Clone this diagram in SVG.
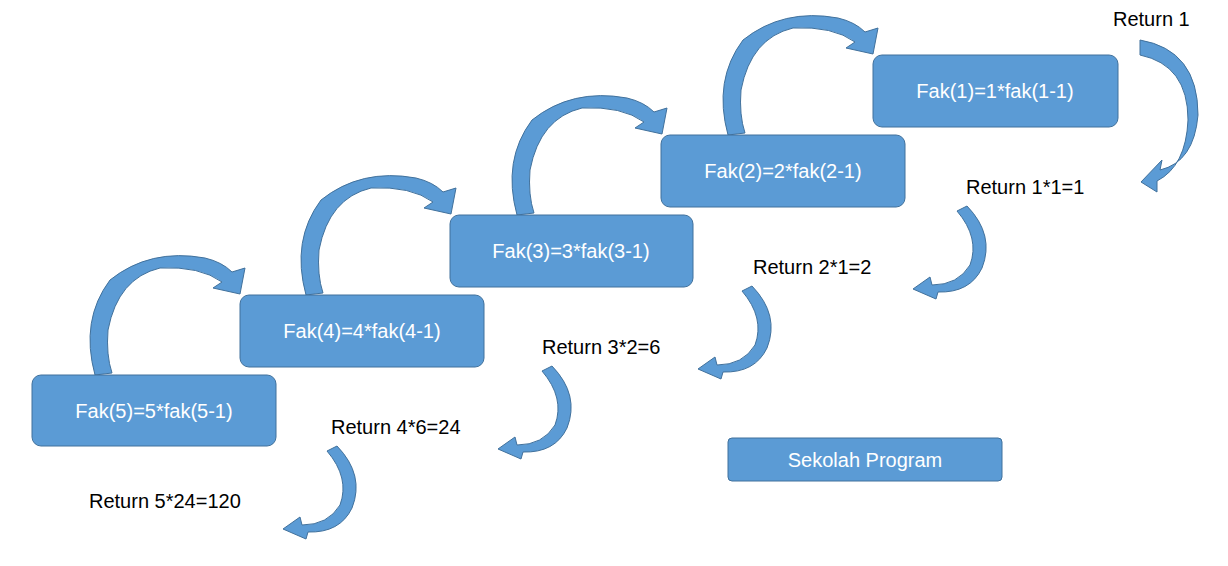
<svg xmlns="http://www.w3.org/2000/svg" width="1228" height="566" viewBox="0 0 1228 566">
<style>
.b{fill:#5b9bd5;stroke:#41719c;stroke-width:1}
.w{fill:#fff;font-family:"Liberation Sans",Arial,sans-serif;font-size:20px;text-anchor:middle}
.k{fill:#000;font-family:"Liberation Sans",Arial,sans-serif;font-size:20px}
.a{fill:#5b9bd5;stroke:#41719c;stroke-width:1}
</style>
<defs>
<path id="up" d="M95,375 Q80,320 110,280 Q150,248 205,258 Q222,262 232,272 L245,268 L240,294 L213,288 L222,282 Q200,266 160,268 Q118,278 108,330 Q106,355 112,373 Z"/>
<path id="dn" d="M957,211 L967,206 Q995,235 982,268 Q970,293 938,292 L936,299 L913,289 L930,277 L932,285 Q958,285 970,265 Q980,238 957,211 Z"/>
</defs>
<g id="connectors">
<use href="#up" class="a"/>
<use href="#up" class="a" transform="translate(211,-80)"/>
<use href="#up" class="a" transform="translate(422,-160)"/>
<use href="#up" class="a" transform="translate(633,-240)"/>
<path class="a" d="M1140,40 Q1198,50 1198,115 Q1194,162 1160,170 L1162,160 L1141,182 L1157,192 L1157,181 Q1186,166 1188,120 Q1188,65 1140,55 Z"/>
<use href="#dn" class="a"/>
<use href="#dn" class="a" transform="translate(-215,80)"/>
<use href="#dn" class="a" transform="translate(-415,160)"/>
<use href="#dn" class="a" transform="translate(-630,240)"/>
</g>
<g id="n5"><rect class="b" x="32" y="375" width="244" height="71" rx="9"/><text class="w" x="154" y="418">Fak(5)=5*fak(5-1)</text></g>
<g id="n4"><rect class="b" x="240" y="295" width="244" height="72" rx="9"/><text class="w" x="362" y="338">Fak(4)=4*fak(4-1)</text></g>
<g id="n3"><rect class="b" x="450" y="215" width="243" height="72" rx="9"/><text class="w" x="571" y="258">Fak(3)=3*fak(3-1)</text></g>
<g id="n2"><rect class="b" x="661" y="135" width="244" height="72" rx="9"/><text class="w" x="783" y="178">Fak(2)=2*fak(2-1)</text></g>
<g id="n1"><rect class="b" x="873" y="55" width="245" height="72" rx="9"/><text class="w" x="995" y="98">Fak(1)=1*fak(1-1)</text></g>
<g id="sp"><rect class="b" x="728" y="438" width="274" height="43" rx="4"/><text class="w" x="865" y="467">Sekolah Program</text></g>
<g id="labels">
<text class="k" x="1113" y="26">Return 1</text>
<text class="k" x="966" y="194">Return 1*1=1</text>
<text class="k" x="753" y="274">Return 2*1=2</text>
<text class="k" x="542" y="354">Return 3*2=6</text>
<text class="k" x="331" y="434">Return 4*6=24</text>
<text class="k" x="89" y="508">Return 5*24=120</text>
</g>
</svg>
